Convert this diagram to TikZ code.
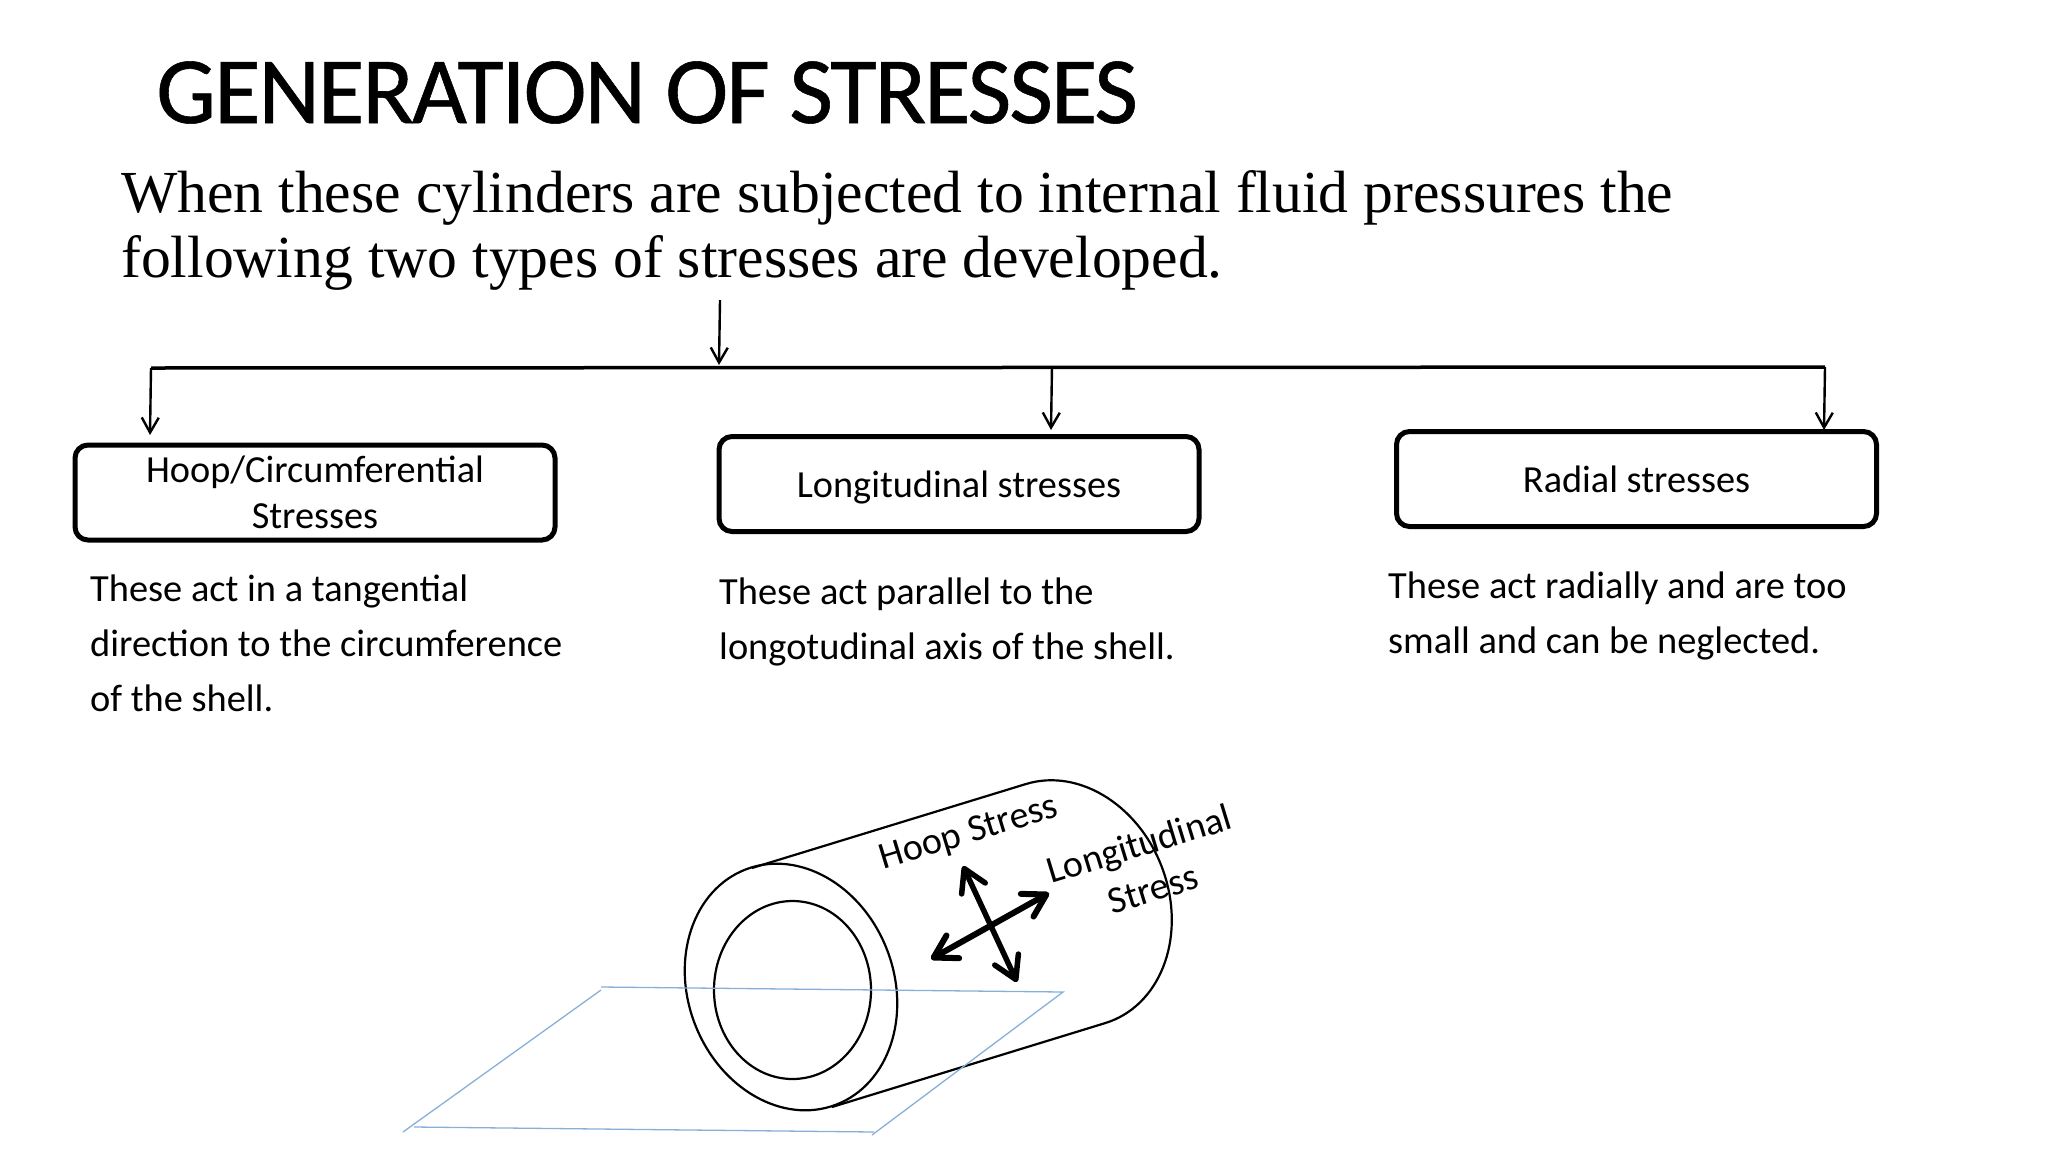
\documentclass[tikz,border=0pt]{standalone}
\usepackage{fontspec}
\setmainfont{Carlito}
\newfontfamily\timesfont{Liberation Serif}
\newfontfamily\titlefont[LetterSpace=-2.1,FakeBold=0.6]{Carlito}
\usetikzlibrary{arrows.meta}
\tikzset{>={Straight Barb[length=15pt,width=17pt]}}
\tikzset{
  stressbox/.style={draw,line width=5pt,rounded corners=13pt,inner sep=0pt,
    minimum width=480pt,minimum height=95pt,align=center,
    font=\fontsize{38.3}{46}\selectfont},
  desc/.style={anchor=base west,inner sep=0pt,align=left,
    font=\fontsize{38.4}{55}\selectfont},
  feed/.style={->,line width=2.4pt},
  cyl/.style={line width=2.2pt},
  plane/.style={line width=1.3pt,color=planeblue},
  stressarrow/.style={{Straight Barb[length=22pt,width=26pt,round]}-{Straight Barb[length=22pt,width=26pt,round]},line width=#1},
  stresslabel/.style={inner sep=0pt,rotate=17,align=center,
    font=\fontsize{38}{47}\selectfont}
}
\definecolor{planeblue}{RGB}{135,175,215}
\begin{document}
\begin{tikzpicture}[x=1pt,y=-1pt]
\useasboundingbox (0,0) rectangle (2048,1152);
\node[anchor=base west,inner sep=0pt,font=\titlefont\fontsize{95}{95}\selectfont] (title) at (156,123) {GENERATION OF STRESSES};
\node[anchor=base west,inner sep=0pt,align=left,font=\timesfont\fontsize{59.65}{65}\selectfont] (intro) at (121,277)
  {When these cylinders are subjected to internal fluid pressures the\\following two types of stresses are developed.};
% boxes
\node[stressbox] (hoop) at (315,492.5) {Hoop/Circumferential\\Stresses};
\node[stressbox,text height=30pt,text depth=3pt] (longi) at (959,484) {Longitudinal stresses};
\node[stressbox,text height=30pt,text depth=3pt] (radial) at (1636.5,479) {Radial stresses};
\node[desc] (hoopdesc) at (90,711) {These act in a tangential\\direction to the circumference\\of the shell.};
\node[desc] (longidesc) at (719,659) {These act parallel to the\\longotudinal axis of the shell.};
\node[desc] (radialdesc) at (1388,653) {These act radially and are too\\small and can be neglected.};
% connectors
\coordinate (busL) at (151,368);
\coordinate (busM) at (1052,366);
\coordinate (busR) at (1825,367);
\coordinate (feedtop) at (720,300);
\coordinate (feedtip) at (719,365);
\coordinate (hooptip) at (150,435);
\coordinate (longitip) at (1051,430);
\coordinate (radialtip) at (1824,430);
\draw[line width=3.5pt] (busL) -- (busR);
\draw[feed] (feedtop) -- (feedtip);
\draw[feed] (busL) -- (hooptip);
\draw[feed] (busM) -- (longitip);
\draw[feed] (busR) -- (radialtip);
% cylinder
\coordinate (frontc) at (791,987);
\coordinate (backc) at (1066,903);
\coordinate (innerc) at (792.5,990);
\coordinate (fronttop) at (752,868);
\coordinate (backtop) at (1026,784);
\coordinate (frontbot) at (832,1107);
\draw[cyl,rotate=21] (frontc) ellipse[x radius=103pt,y radius=126pt];
\draw[cyl] (innerc) ellipse[x radius=78.5pt,y radius=89pt];
\draw[cyl,rotate=21] (fronttop) -- (backtop)
  arc[start angle=86.7,end angle=-93.3,x radius=103pt,y radius=126pt] -- (frontbot);
% plane
\coordinate (p1) at (601,987);
\coordinate (p2) at (1063,992);
\coordinate (p3) at (872,1135);
\coordinate (p4) at (414,1127);
\coordinate (p5) at (874,1132);
\coordinate (p6) at (601,990);
\coordinate (p7) at (403,1132);
\draw[plane] (p1) -- (p2) -- (p3);
\draw[plane] (p4) -- (p5);
\draw[plane] (p6) -- (p7);
% stress arrows
\coordinate (hoopa) at (963,866);
\coordinate (hoopb) at (1017,982);
\coordinate (longia) at (931,959);
\coordinate (longib) at (1049,893);
\draw[stressarrow=5.5pt] (hoopa) -- (hoopb);
\draw[stressarrow=6pt] (longia) -- (longib);
\node[stresslabel] (hooplabel) at (969,834) {Hoop Stress};
\node[stresslabel] (longilabel) at (1146,866) {Longitudinal\\Stress};
\end{tikzpicture}
\end{document}
